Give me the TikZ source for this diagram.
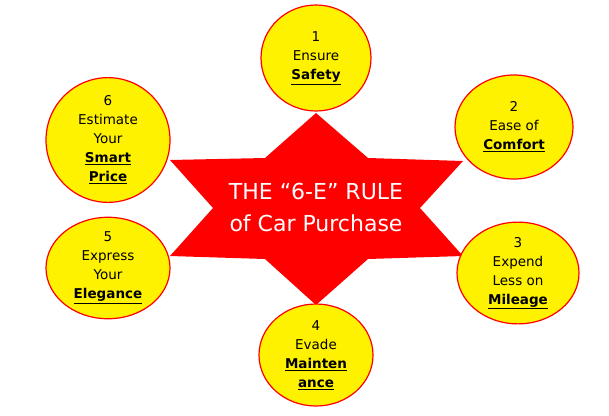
\documentclass[tikz,border=0pt]{standalone}
\usepackage{fontspec}
\setmainfont{DejaVu Sans}
\usetikzlibrary{shapes.geometric}
\begin{document}
\begin{tikzpicture}[x=1pt,y=-1pt,
 bub/.style={ellipse,draw=red,line width=1.2pt,fill=yellow,align=center,font=\fontsize{13.5}{19}\selectfont,inner sep=0pt}]
\useasboundingbox (0,0) rectangle (609,415);
\fill[red] (316,113) -- (368,158) -- (463,161) -- (420,208) -- (463,256) -- (368,259) -- (316,305) -- (265,259) -- (170,256) -- (213,208) -- (170,160) -- (265,158) -- cycle;
\node[align=center,text=white,font=\fontsize{22}{32}\selectfont] (title) at (316,207) {THE “6-E” RULE\\of Car Purchase};
\node[bub,minimum width=110,minimum height=106] (e1) at (316,58) {1\\Ensure\\\underline{\textbf{Safety}}};
\node[bub,minimum width=118,minimum height=104] (e2) at (514,127) {2\\Ease of\\\underline{\textbf{Comfort}}};
\node[bub,minimum width=122,minimum height=98] (e3) at (518,273) {3\\Expend\\Less on\\\underline{\textbf{Mileage}}};
\node[bub,minimum width=114,minimum height=102] (e4) at (316,355) {4\\Evade\\\underline{\textbf{Mainten}}\\\underline{\textbf{ance}}};
\node[bub,minimum width=124,minimum height=96] (e5) at (108,268) {5\\Express\\Your\\\underline{\textbf{Elegance}}};
\node[bub,minimum width=124,minimum height=110] (e6) at (108,140) {6\\Estimate\\Your\\\underline{\textbf{Smart}}\\\underline{\textbf{Price}}};
\end{tikzpicture}
\end{document}
